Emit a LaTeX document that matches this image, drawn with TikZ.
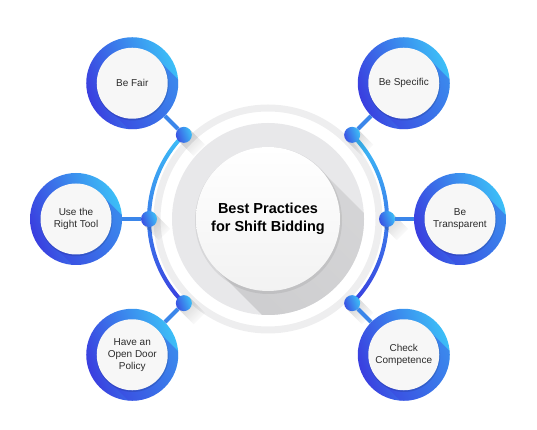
\documentclass[tikz,border=0pt]{standalone}
\usepackage{fontspec}
\setmainfont{Liberation Sans}
\usetikzlibrary{calc,fadings}
\definecolor{lb}{HTML}{3CBFF7}
\definecolor{db}{HTML}{3A3EDF}
\definecolor{mb}{HTML}{3B86EA}
\definecolor{txt}{HTML}{2B2B2B}
\definecolor{gring}{HTML}{E8E8EA}
\definecolor{gthin}{HTML}{EEEEEF}
\definecolor{gshadow}{HTML}{CCCCCE}
\tikzset{
  satellite/.style={circle, minimum size=92pt, inner sep=0pt, bottom color=db, top color=lb, shading angle=-70},
  innerdisk/.style={circle, minimum size=71pt, inner sep=0pt, fill=white!97!black, text=txt, align=center, font=\fontsize{10}{12}\selectfont},
  dotnode/.style={circle, minimum size=16pt, inner sep=0pt, bottom color=db!85!lb, top color=lb, shading angle=-70},
  conn/.style={mb, line width=4pt},
}
\begin{document}
\begin{tikzpicture}[x=1pt,y=1pt]
\useasboundingbox (0,0) rectangle (537,430);
\coordinate (O) at (268,211);
% thin outer ring
\draw[gthin, line width=7pt] (O) circle (111);
% gray disk with long shadow
\fill[gring] (O) circle (96);
\begin{scope}
  \clip (O) circle (96);
  \shade[top color=gshadow!80, bottom color=gshadow, shading angle=-45]
    ($(O)+(45:72)$) -- ($(O)+(-135:72)$) -- ++(-45:160) -- ($(O)+(45:72)+(-45:160)$) -- cycle;
\end{scope}
\fill[black, opacity=0.07] ($(O)+(0.5,-1.5)$) circle (73.5);
\node[circle, minimum size=144pt, inner sep=0pt, top color=white, bottom color=white!95!black, align=center,
      font=\bfseries\fontsize{14.5}{18.5}\selectfont] (center) at (O) {Best Practices\\for Shift Bidding};
% big blue arcs
\shade[top color=lb, bottom color=db]
  ($(O)+(135:121)$) arc (135:225:121) -- ($(O)+(225:117)$) arc (225:135:117) -- cycle;
\shade[top color=lb, bottom color=db]
  ($(O)+(-45:121)$) arc (-45:45:121) -- ($(O)+(45:117)$) arc (45:-45:117) -- cycle;
% satellites
\foreach \a/\i/\t in {135/1/{Be Fair}, 180/2/{Use the\\Right Tool}, 225/3/{Have an\\Open Door\\Policy},
                      45/4/{Be Specific}, 0/5/{Be\\Transparent}, -45/6/{Check\\Competence}} {
  \coordinate (c\i) at ($(O)+(\a:192)$);
  \coordinate (p\i) at ($(O)+(\a:119)$);
  \node[satellite] (s\i) at (c\i) {};
  \begin{scope}
    \clip (c\i) circle (46);
    \fill[db, opacity=0.4] ($(c\i)+(45:35)$) -- ($(c\i)+(-135:35)$) -- ++(-45:100) -- ($(c\i)+(45:35)+(-45:100)$) -- cycle;
  \end{scope}
  \fill[black, opacity=0.12] ($(c\i)+(0.4,-1.2)$) circle (36);
  \node[innerdisk] (t\i) at (c\i) {\t};
  \fill[black, opacity=0.18, path fading=east, fading angle=-45]
    ($(p\i)+(45:8)$) -- ($(p\i)+(-135:8)$) -- ++(-45:22) -- ($(p\i)+(45:8)+(-45:22)$) -- cycle;
  \node[dotnode] (d\i) at (p\i) {};
  \draw[conn] (d\i) -- (s\i);
}
\end{tikzpicture}
\end{document}
